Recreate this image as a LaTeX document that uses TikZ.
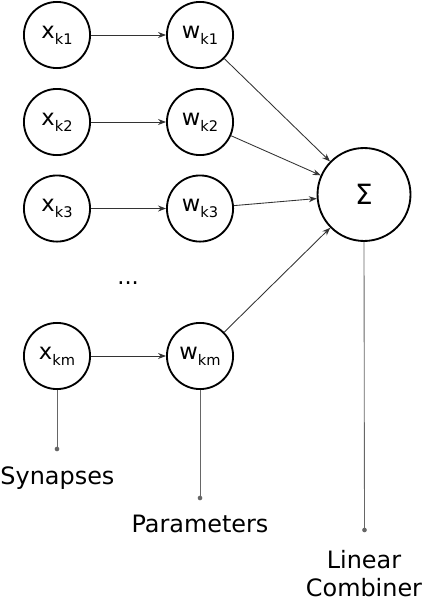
\documentclass[tikz,border=0pt]{standalone}
\usepackage{fontspec}
\setmainfont{DejaVu Sans}
\usetikzlibrary{arrows.meta}

\newcommand{\ksub}[1]{\raisebox{-4.5pt}{\fontsize{11}{13}\selectfont #1}}

\tikzset{
  unit/.style={circle, draw, line width=1.4pt, minimum size=1.75cm, inner sep=0pt, font=\fontsize{17}{20}\selectfont},
  sumunit/.style={circle, draw, line width=1.4pt, minimum size=2.46cm, inner sep=0pt, font=\fontsize{21}{24}\selectfont},
  link/.style={-{Stealth[length=6pt,width=4.5pt]}, line width=0.65pt, black!80},
  pin/.style={line width=0.65pt, black!60},
  pindot/.style={circle, fill=black!60, inner sep=0pt, minimum size=3.5pt},
  tag/.style={font=\fontsize{18}{21}\selectfont, inner sep=0pt}
}

\begin{document}
\begin{tikzpicture}
\useasboundingbox (0,0) rectangle (11.192,-15.875);
%\draw[help lines, color=gray!30] (0,-15.875) grid (11.192,0);

% inputs
\node [unit] (x1) at (1.508,-0.926) {x\ksub{k1}};
\node [unit] (x2) at (1.508,-3.228) {x\ksub{k2}};
\node [unit] (x3) at (1.508,-5.517) {x\ksub{k3}};
\node [unit] (xm) at (1.508,-9.419) {x\ksub{km}};

% weights
\node [unit] (w1) at (5.292,-0.926) {w\ksub{k1}};
\node [unit] (w2) at (5.292,-3.228) {w\ksub{k2}};
\node [unit] (w3) at (5.292,-5.517) {w\ksub{k3}};
\node [unit] (wm) at (5.292,-9.419) {w\ksub{km}};

\node [font=\fontsize{17}{20}\selectfont, anchor=base] (dots) at (3.39,-7.52) {...};

% sum
\node [sumunit] (sum) at (9.631,-5.146) {Σ};

\draw [link] (x1) -- (w1);
\draw [link] (x2) -- (w2);
\draw [link] (x3) -- (w3);
\draw [link] (xm) -- (wm);

\draw [link] (w1) -- (sum);
\draw [link] (w2) -- (sum);
\draw [link] (w3) -- (sum);
\draw [link] (wm) -- (sum);

% labels
\coordinate (syn) at (1.508,-11.88);
\coordinate (par) at (5.292,-13.176);
\coordinate (lin) at (9.644,-14.023);
\draw [pin] (xm) -- (syn);
\draw [pin] (wm) -- (par);
\draw [pin] (sum.south) -- (lin);
\node [pindot] (syndot) at (syn) {};
\node [pindot] (pardot) at (par) {};
\node [pindot] (lindot) at (lin) {};

\node [tag, anchor=base] (synapses) at (1.52,-12.806) {Synapses};
\node [tag, anchor=base] (params) at (5.292,-14.10) {Parameters};
\node [tag, anchor=north, align=center] (combiner) at (9.631,-14.55) {Linear\\Combiner};
\end{tikzpicture}
\end{document}
